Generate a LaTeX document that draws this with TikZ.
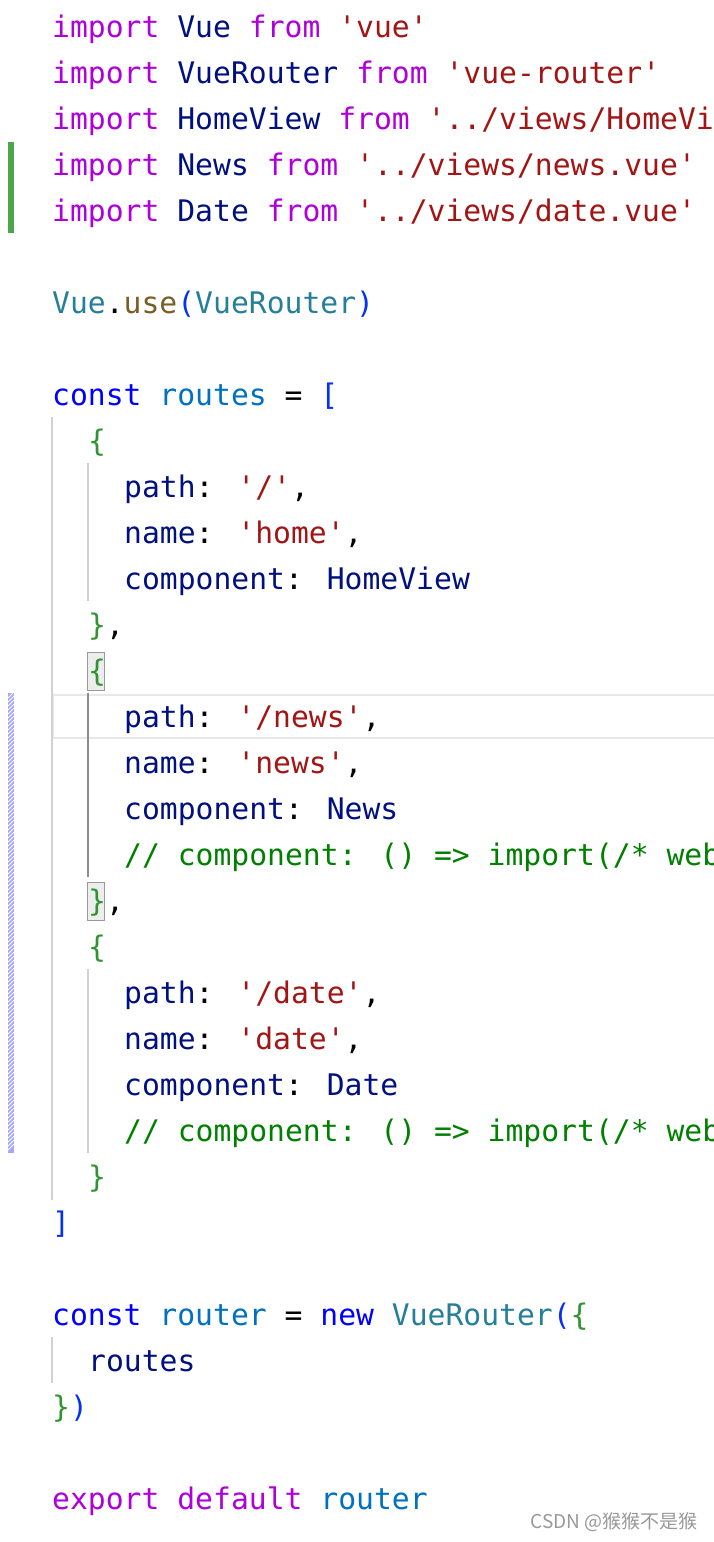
\documentclass[tikz,border=0pt]{standalone}
\usepackage{fontspec}
\newfontfamily\code{DejaVu Sans Mono}
\newfontfamily\cjk{Noto Sans CJK SC}
\definecolor{kwp}{HTML}{AF00DB}
\definecolor{idn}{HTML}{001080}
\definecolor{str}{HTML}{A31515}
\definecolor{typ}{HTML}{267F99}
\definecolor{fn}{HTML}{795E26}
\definecolor{kwb}{HTML}{0000FF}
\definecolor{cst}{HTML}{0070C1}
\definecolor{brb}{HTML}{0431FA}
\definecolor{brg}{HTML}{319331}
\definecolor{cmt}{HTML}{008000}
\newcommand{\Kp}[1]{\textcolor{kwp}{#1}}
\newcommand{\Id}[1]{\textcolor{idn}{#1}}
\newcommand{\St}[1]{\textcolor{str}{#1}}
\newcommand{\Ty}[1]{\textcolor{typ}{#1}}
\newcommand{\Fn}[1]{\textcolor{fn}{#1}}
\newcommand{\Kb}[1]{\textcolor{kwb}{#1}}
\newcommand{\Cs}[1]{\textcolor{cst}{#1}}
\newcommand{\Bb}[1]{\textcolor{brb}{#1}}
\newcommand{\Bg}[1]{\textcolor{brg}{#1}}
\newcommand{\Cm}[1]{\textcolor{cmt}{#1}}
\begin{document}
\begin{tikzpicture}[x=1pt,y=-1pt,
  codeline/.style={anchor=west,inner sep=0pt,yshift=-4pt,font=\code\fontsize{29.7}{30}\selectfont,text height=22pt,text depth=7pt},
  guide/.style={draw=black!18,line width=1.2pt},
  guideact/.style={draw=black!45,line width=1.2pt}]
\useasboundingbox (0,0) rectangle (714,1542);
\clip (0,0) rectangle (714,1542);
\fill[white] (0,0) rectangle (714,1542);
% current line highlight
\draw[black!9,line width=2pt] (53,695) rectangle (716,738);
% change bars
\fill[green!50!black!70] (8,142) rectangle (14,233);
\fill[blue!35] (8,693) rectangle (14,1153);
\foreach \yy in {695,699,...,1150} \draw[white,line width=0.8pt] (8,\yy+3) -- (14,\yy-3);
% indentation guides
\draw[guide] (52,417) -- (52,1200);
\draw[guide] (88,463) -- (88,601);
\draw[guideact] (88,693) -- (88,877);
\draw[guide] (88,969) -- (88,1153);
\draw[guide] (52,1337) -- (52,1383);
% bracket match boxes
\draw[fill=black!7,draw=black!40] (87,652) rectangle (104,690);
\draw[fill=black!7,draw=black!40] (87,882) rectangle (104,920);
% code
\def\a{52}\def\b{88}\def\c{124}
\node[codeline] (l1) at (\a,26) {\Kp{import} \Id{Vue} \Kp{from} \St{'vue'}};
\node[codeline] (l2) at (\a,72) {\Kp{import} \Id{VueRouter} \Kp{from} \St{'vue-router'}};
\node[codeline] (l3) at (\a,118) {\Kp{import} \Id{HomeView} \Kp{from} \St{'../views/HomeView.vue'}};
\node[codeline] (l4) at (\a,164) {\Kp{import} \Id{News} \Kp{from} \St{'../views/news.vue'}};
\node[codeline] (l5) at (\a,210) {\Kp{import} \Id{Date} \Kp{from} \St{'../views/date.vue'}};
\node[codeline] (l7) at (\a,302) {\Ty{Vue}.\Fn{use}\Bb{(}\Ty{VueRouter}\Bb{)}};
\node[codeline] (l9) at (\a,394) {\Kb{const} \Cs{routes} = \Bb{[}};
\node[codeline] (l10) at (\b,440) {\Bg{\{}};
\node[codeline] (l11) at (\c,486) {\Id{path}: \St{'/'},};
\node[codeline] (l12) at (\c,532) {\Id{name}: \St{'home'},};
\node[codeline] (l13) at (\c,578) {\Id{component}: \Id{HomeView}};
\node[codeline] (l14) at (\b,624) {\Bg{\}},};
\node[codeline] (l15) at (\b,670) {\Bg{\{}};
\node[codeline] (l16) at (\c,716) {\Id{path}: \St{'/news'},};
\node[codeline] (l17) at (\c,762) {\Id{name}: \St{'news'},};
\node[codeline] (l18) at (\c,808) {\Id{component}: \Id{News}};
\node[codeline] (l19) at (\c,854) {\Cm{// component: () => import(/* webpackChunkName */)}};
\node[codeline] (l20) at (\b,900) {\Bg{\}},};
\node[codeline] (l21) at (\b,946) {\Bg{\{}};
\node[codeline] (l22) at (\c,992) {\Id{path}: \St{'/date'},};
\node[codeline] (l23) at (\c,1038) {\Id{name}: \St{'date'},};
\node[codeline] (l24) at (\c,1084) {\Id{component}: \Id{Date}};
\node[codeline] (l25) at (\c,1130) {\Cm{// component: () => import(/* webpackChunkName */)}};
\node[codeline] (l26) at (\b,1176) {\Bg{\}}};
\node[codeline] (l27) at (\a,1222) {\Bb{]}};
\node[codeline] (l29) at (\a,1314) {\Kb{const} \Cs{router} = \Kb{new} \Ty{VueRouter}\Bb{(}\Bg{\{}};
\node[codeline] (l30) at (\b,1360) {\Id{routes}};
\node[codeline] (l31) at (\a,1406) {\Bg{\}}\Bb{)}};
\node[codeline] (l33) at (\a,1498) {\Kp{export} \Kp{default} \Cs{router}};
\node[anchor=east,inner sep=0pt,text=black!40,font=\cjk\fontsize{19}{20}\selectfont] (wm) at (698,1522) {CSDN @猴猴不是猴};
\end{tikzpicture}
\end{document}
